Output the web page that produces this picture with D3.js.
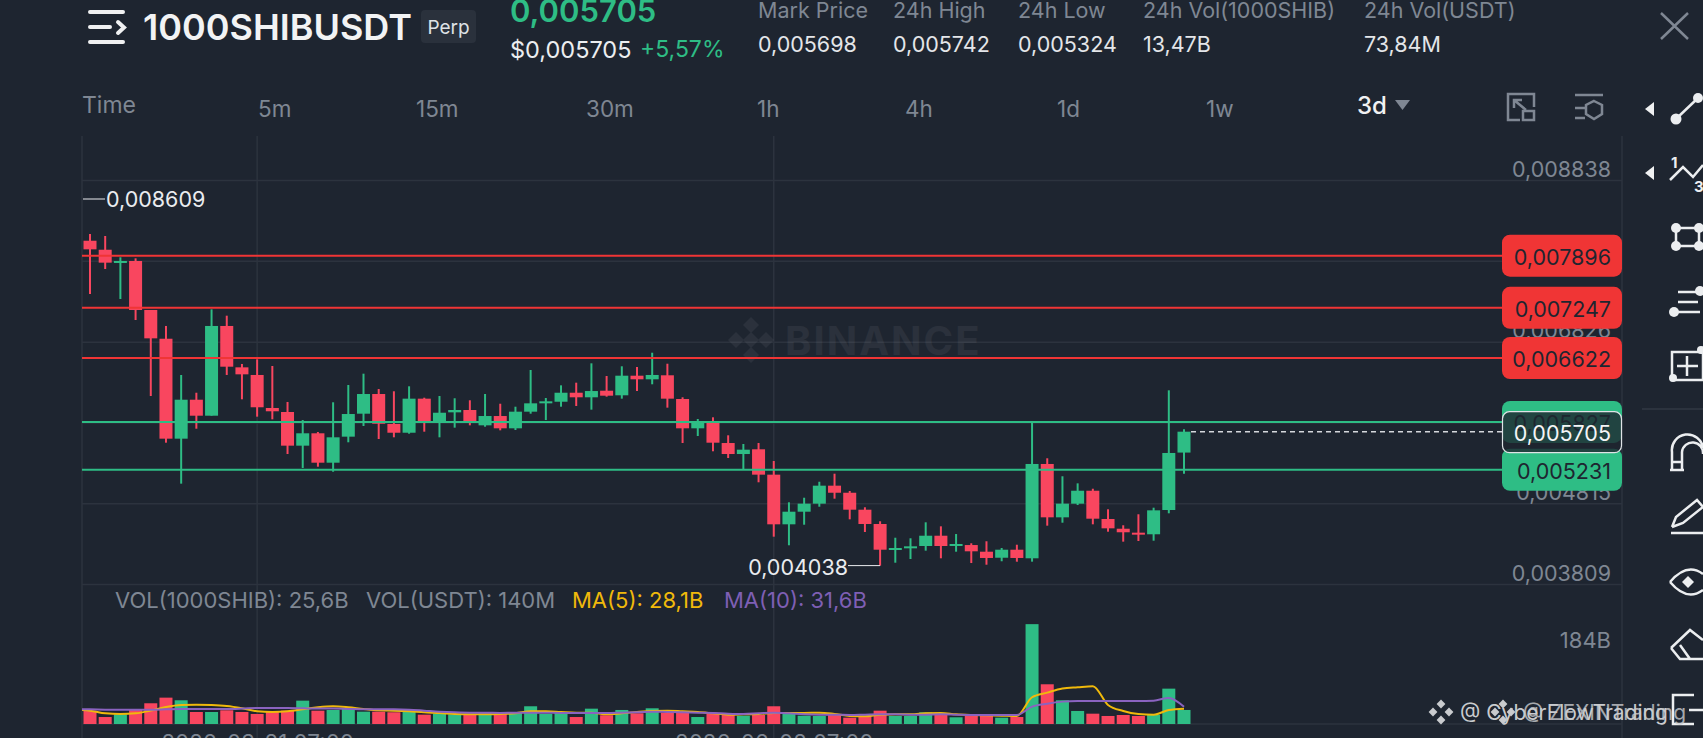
<!DOCTYPE html>
<html><head><meta charset="utf-8">
<script src="https://cdn.jsdelivr.net/npm/d3@7/dist/d3.min.js"></script>
<style>html,body{margin:0;padding:0;background:#1e2530;overflow:hidden}svg{display:block}text{font-family:Inter,"Noto Sans",sans-serif}</style>
</head><body><div id="c"></div>
<script>
// Prices are in millionths of USDT
const priceOpen=[8082,7970,7809,7830,7220,6862,5618,6103,5904,7021,6506,6411,6000,5950,5531,5685,5319,5643,5929,6174,5801,5692,6116,5826,5946,5975,5784,5900,5747,5954,6058,6078,6190,6133,6215,6158,6402,6357,6407,6112,5747,5838,5564,5427,5486,5170,4552,4709,4809,5033,4945,4734,4556,4245,4261,4282,4410,4291,4294,4211,4136,4236,4129,5303,4639,4809,4970,4618,4497,4448,4428,4730,5445];
const priceHigh=[8166,8141,7876,7863,7220,7021,6411,6190,7228,7149,6548,6606,6523,6075,5850,5701,6071,6286,6427,6236,6208,6270,6128,6149,6121,6096,6174,6053,6016,6473,6124,6282,6315,6556,6398,6519,6510,6688,6551,6133,5863,5884,5660,5552,5564,5340,4826,4883,5082,5182,4967,4764,4590,4385,4378,4577,4527,4431,4316,4341,4257,4298,5822,5374,5150,5062,4995,4739,4540,4677,4759,6220,5735];
const priceLow=[7419,7730,7357,7095,6149,5568,5058,5742,5904,6411,6108,5892,5859,5427,5253,5269,5207,5573,5776,5614,5635,5680,5705,5635,5755,5784,5767,5722,5726,5929,5850,6016,6025,5979,6141,6116,6211,6295,6004,5564,5651,5461,5377,5228,5075,4398,4291,4547,4771,4871,4614,4456,4038,4074,4120,4224,4129,4211,4070,4049,4092,4087,4087,4535,4572,4792,4552,4460,4336,4344,4348,4689,5182];
const priceClose=[7975,7809,7830,7220,6867,5618,6103,5904,7021,6514,6419,6009,5959,5531,5685,5319,5635,5925,6174,5804,5692,6116,5834,5941,5975,5829,5900,5747,5954,6058,6083,6190,6133,6211,6153,6402,6357,6411,6116,5747,5838,5568,5427,5481,5170,4552,4709,4809,5033,4945,4734,4556,4236,4257,4278,4410,4282,4307,4216,4133,4236,4133,5303,4639,4809,4970,4622,4502,4453,4423,4726,5440,5705];
// Volumes in billions
const volume=[24.4,12.8,17.8,25.7,38,48.3,43.5,22,22,25.1,22,18.4,22,24.4,42.8,24.4,25.7,28.8,22.6,22.6,21.5,25.7,17.1,18.4,17.8,18.4,22,18.4,20.7,32.5,18.4,21.5,12.8,28.1,16,25.7,19.6,28.8,20.7,20.7,12.8,18.4,16.5,15.2,16.5,32.5,19.6,15.2,14.7,16.5,11.6,14.7,24.4,14.7,14.7,21.5,16.5,12.3,15.2,15.2,11.6,12.8,183,72.8,43.5,23.9,18.9,14.7,16.5,14.7,17.1,64.8,25.7];
const ma5=[24.5,19.6,18.4,19.6,24.5,31.2,34.9,35.5,34.9,33,28.8,23.3,22,23.3,26.9,30.6,32.4,30.6,27.5,25.1,24.5,23.3,21.4,20.2,18.4,17.7,17.7,18.4,19.6,23.3,23.3,22,20.8,20.8,17.7,19.6,22,23.9,24.5,23.3,22,19.6,17.1,17.7,18.4,20.2,20.2,20.2,20.8,18.4,14.7,14.1,17.1,17.7,17.7,19.6,20.2,17.7,16.5,15.9,15.3,14.7,49,57.5,64.9,67.3,69.2,34.9,23.9,18.4,17.1,25.7,28.1];
const ma10=[26.9,26.3,26.3,26.3,26.3,26.9,27.5,27.5,27.5,27.5,28.2,29.4,29.4,29.4,28.8,28.2,28.2,27.5,26.9,26.9,26.9,26.3,24.5,22.6,21.4,20.8,20.8,20.2,20.8,20.8,20.8,20.2,20.2,20.2,20.2,20.8,21.4,22.6,22,21.4,20.8,20.2,19,18.4,19.6,20.8,19.6,17.7,17.1,17.1,16.5,17.1,17.7,17.7,17.1,17.1,17.7,17.1,16.5,16.5,16.5,16.5,31.8,37.3,41,42.2,42.2,42.2,42.2,42.2,42.8,47.7,31.6];
// moving averages of the candle just left of the visible range
const ma5Before=26, ma10Before=26.9;
const priceTicks=[8838,7832,6826,5820,4815,3809];
const redLevels=[7896,7247,6622];
const greenLevels=[5827,5231];
const lastPrice=5705;
const dateTicks=[[11,"2026-03-21 07:00"],[45,"2026-06-02 07:00"]];
const intervals=[["5m",258],["15m",416],["30m",586],["1h",757],["4h",905],["1d",1057],["1w",1206]];
const stats=[["Mark Price","0,005698",758],["24h High","0,005742",893],["24h Low","0,005324",1018],["24h Vol(1000SHIB)","13,47B",1143],["24h Vol(USDT)","73,84M",1364]];

const W=1703,H=738,BG="#1e2530",GRID="#2c333e",GRAY="#7f8793",
 UP="#2ebd85",DOWN="#f9465f",LRED="#f03535",LGREEN="#2ebd85",WHITE="#eaecef",DARK="#1e2530";
const L=82,R=1622;
const fmt=d=>(d/1e6).toFixed(6).replace(".",",");
const x=d3.scaleLinear().domain([0,72]).range([90,1184]);
const y=d3.scaleLinear().domain([3809,8838]).range([584,180]);
const yv=d3.scaleLinear().domain([0,184]).range([724,623.6]);
const svg=d3.select("#c").append("svg").attr("width",W).attr("height",H).style("background",BG);
svg.append("defs").append("clipPath").attr("id","plot").append("rect").attr("x",L).attr("y",136).attr("width",R-L).attr("height",H-136);
const T=(s,tx,ty,size,fill,opt={})=>svg.append("text").text(s).attr("x",tx).attr("y",ty).attr("font-size",size).attr("fill",fill)
  .attr("dominant-baseline","central").attr("text-anchor",opt.anchor||"start").attr("font-weight",opt.w||400).attr("letter-spacing",opt.ls||0);

// frame
svg.append("line").attr("x1",L).attr("x2",L).attr("y1",136).attr("y2",H).attr("stroke",GRID).attr("stroke-width",1.5);
svg.append("line").attr("x1",R).attr("x2",R).attr("y1",136).attr("y2",H).attr("stroke",GRID).attr("stroke-width",1.5);

// vertical grid and date axis
const xAxis=d3.axisBottom(x).tickValues(dateTicks.map(d=>d[0])).tickSize(0).tickPadding(0)
  .tickFormat(i=>dateTicks.find(d=>d[0]===i)[1]);
const gx=svg.append("g").attr("transform","translate(0,733)").call(xAxis);
gx.select(".domain").remove();
gx.selectAll("text").attr("y",0).attr("dy",0).attr("dominant-baseline","hanging").attr("font-size",22.4).attr("fill",GRAY).attr("font-family","Inter");
svg.selectAll(null).data(dateTicks).join("line").attr("x1",d=>x(d[0])).attr("x2",d=>x(d[0])).attr("y1",136).attr("y2",H).attr("stroke",GRID).attr("stroke-width",1.5);

// price grid + labels
const yAxis=d3.axisLeft(y).tickValues(priceTicks).tickSize(R-L).tickPadding(0).tickFormat(fmt);
const gy=svg.append("g").attr("transform",`translate(${R},0)`).call(yAxis);
gy.select(".domain").remove();
gy.selectAll("line").attr("stroke",GRID).attr("stroke-width",1.5);
gy.selectAll("text").attr("x",-11).attr("dy",0).attr("y",-12).attr("dominant-baseline","central").attr("text-anchor","end").attr("font-size",21.5).attr("fill",GRAY).attr("font-family","Inter");
svg.append("line").attr("x1",L).attr("x2",R).attr("y1",yv(0)).attr("y2",yv(0)).attr("stroke",GRID).attr("stroke-width",1.5);

// watermark
const wm=svg.append("g").attr("opacity",.055);
wm.append("g").attr("transform","translate(751,340)").selectAll("path").data([[0,-15],[0,15],[-15,0],[15,0],[0,0]]).join("path")
  .attr("d","M0,-8L8,0L0,8L-8,0Z").attr("transform",d=>`translate(${d[0]},${d[1]})`).attr("fill","#fff");
wm.append("text").text("BINANCE").attr("x",785).attr("y",340).attr("dominant-baseline","central").attr("font-size",40).attr("font-weight",700).attr("fill","#fff").attr("letter-spacing",2);

// volume bars
const up=i=>priceClose[i]>=priceOpen[i];
const idx=d3.range(volume.length);
svg.append("g").selectAll("rect").data(idx).join("rect")
  .attr("x",i=>x(i)-6.5).attr("width",13).attr("y",i=>yv(volume[i])).attr("height",i=>yv(0)-yv(volume[i]))
  .attr("fill",i=>up(i)?UP:DOWN);
const mk=(arr,before)=>d3.line().x((d,i)=>x(i-1)).y(d=>yv(d)).curve(d3.curveMonotoneX)([before,...arr]);
const mag=svg.append("g").attr("clip-path","url(#plot)").attr("fill","none").attr("stroke-width",2);
mag.append("path").attr("d",mk(ma5,ma5Before)).attr("stroke","#f0b90b");
mag.append("path").attr("d",mk(ma10,ma10Before)).attr("stroke","#8a63c0");

// candles
const cg=svg.append("g");
cg.selectAll("line").data(idx).join("line").attr("x1",i=>x(i)).attr("x2",i=>x(i))
  .attr("y1",i=>y(priceHigh[i])).attr("y2",i=>y(priceLow[i])).attr("stroke-width",2).attr("stroke",i=>up(i)?UP:DOWN);
cg.selectAll("rect").data(idx).join("rect").attr("x",i=>x(i)-6.5).attr("width",13)
  .attr("y",i=>y(Math.max(priceOpen[i],priceClose[i])))
  .attr("height",i=>Math.max(2,Math.abs(y(priceOpen[i])-y(priceClose[i]))))
  .attr("fill",i=>up(i)?UP:DOWN);

// horizontal levels
const LX=1502;
svg.selectAll(null).data(redLevels).join("line").attr("x1",L).attr("x2",LX).attr("y1",d=>y(d)).attr("y2",d=>y(d)).attr("stroke",LRED).attr("stroke-width",2);
svg.selectAll(null).data(greenLevels).join("line").attr("x1",L).attr("x2",LX).attr("y1",d=>y(d)).attr("y2",d=>y(d)).attr("stroke",LGREEN).attr("stroke-width",2);
svg.append("line").attr("x1",x(72)+7).attr("x2",LX).attr("y1",y(lastPrice)).attr("y2",y(lastPrice)).attr("stroke","#d5d8dc").attr("stroke-width",1.5).attr("stroke-dasharray","5 4");

// level tags
const tag=(v,fill)=>{svg.append("rect").attr("x",LX).attr("width",R-LX).attr("y",y(v)-21).attr("height",42).attr("rx",8).attr("fill",fill);
  T(fmt(v),1611,y(v)+1,21.5,DARK,{anchor:"end"});};
redLevels.forEach(v=>tag(v,LRED));
greenLevels.forEach(v=>tag(v,LGREEN));
svg.append("rect").attr("x",LX+.5).attr("width",R-LX-1).attr("y",y(lastPrice)-20).attr("height",41).attr("rx",7).attr("fill",BG).attr("fill-opacity",.8).attr("stroke","#dfe3e6").attr("stroke-width",1.2);
T(fmt(lastPrice),1611,y(lastPrice)+1,21.5,"#f4f5f6",{anchor:"end"});

// extremes
svg.append("line").attr("x1",83).attr("x2",105).attr("y1",199).attr("y2",199).attr("stroke",WHITE).attr("stroke-width",1);
T("0,008609",106,199,21.5,WHITE);
const lowX=x(priceLow.indexOf(4038));
svg.append("line").attr("x1",848).attr("x2",lowX).attr("y1",y(4038)).attr("y2",y(4038)).attr("stroke",WHITE).attr("stroke-width",1);
T("0,004038",848,y(4038)+1,21.5,WHITE,{anchor:"end"});

// volume legend
T("VOL(1000SHIB): 25,6B",115,600,22,GRAY);
T("VOL(USDT): 140M",366,600,22,GRAY);
T("MA(5): 28,1B",572,600,22,"#f0b90b");
T("MA(10): 31,6B",724,600,22,"#7e5fb4");
T("184B",1611,640,22,GRAY,{anchor:"end"});

// header
const ic=svg.append("g").attr("stroke","#f0f1f2").attr("stroke-width",4).attr("stroke-linecap","round").attr("fill","none");
ic.append("path").attr("d","M90,12H123M90,27H110M90,42H123M118,22L124,27.5L118,33");
T("1000SHIBUSDT",143,27,36,"#f2f3f4",{w:600});
svg.append("rect").attr("x",421).attr("y",10).attr("width",55).attr("height",33).attr("rx",4).attr("fill","#2a313c");
T("Perp",448.5,27,19,"#dfe2e6",{anchor:"middle"});
T("0,005705",510,10,31,UP,{w:600});
T("$0,005705",510,49,23.5,"#eceef0");
T("+5,57%",640,49,23,UP);
stats.forEach(s=>{T(s[0],s[2],10,21.5,GRAY);T(s[1],s[2],44,21.5,"#e4e6e9");});
svg.append("path").attr("d","M1661,13L1688,39M1688,13L1661,39").attr("stroke",GRAY).attr("stroke-width",2.5).attr("fill","none");

// interval bar
T("Time",82,105,23,GRAY);
intervals.forEach(d=>T(d[0],d[1],108,22.5,GRAY));
T("3d",1357,105,24,"#f0f1f2",{w:500});
svg.append("path").attr("d","M1395,100H1410L1402.5,110Z").attr("fill",GRAY);
const a=svg.append("g").attr("fill","none").attr("stroke",GRAY).attr("stroke-width",2.5);
a.append("path").attr("d","M1519,94H1534V107M1520,120H1508V94H1519M1514,100L1526,110M1514,108V100H1522");
a.append("rect").attr("x",1523).attr("y",111).attr("width",11).attr("height",9);
a.append("path").attr("d","M1575,95H1603M1575,108H1585M1575,118H1585M1594,101L1602,105V114L1594,119L1586,114V105Z");

// side toolbar
svg.append("line").attr("x1",1642).attr("x2",W).attr("y1",409).attr("y2",409).attr("stroke",GRID).attr("stroke-width",2);
svg.selectAll(null).data([109,173]).join("path").attr("d",d=>`M1654,${d-7}V${d+7}L1645,${d}Z`).attr("fill","#f0f1f2");
const b=svg.append("g").attr("fill","none").attr("stroke","#eceef0").attr("stroke-width",2.5);
const dot=(cx,cy,r=5)=>svg.append("circle").attr("cx",cx).attr("cy",cy).attr("r",r).attr("fill","#eceef0");
b.append("path").attr("d","M1677,118L1698,98");dot(1676,119,5.5);dot(1698,98,5);
b.append("path").attr("d","M1670,180L1683,167L1693,177L1703,165");
T("1",1671,162,15,"#eceef0",{w:700});T("3",1694,186,15,"#eceef0",{w:700});
b.append("path").attr("d","M1677,228H1698M1677,246H1698M1676,228V246M1699,228V246");[[1676,228],[1699,228],[1676,246],[1699,246]].forEach(p=>dot(p[0],p[1],5));
b.append("path").attr("d","M1678,292H1700M1678,302H1698M1678,312H1700");dot(1700,291,5);dot(1674,312,5);
b.append("path").attr("d","M1672,352H1703V380H1672ZM1687,356V376M1677,366H1698");dot(1673,378,4);dot(1701,350,4);
b.append("path").attr("d","M1672,469V452A14,14,0,0,1,1703,448M1672,462H1682M1682,469V452A5,5,0,0,1,1703,454M1670,470H1684");
b.append("path").attr("d","M1672,527L1676,517L1697,500L1703,507M1672,527L1683,523L1703,507M1671,533H1703");
b.append("path").attr("d","M1670,582Q1687,562,1703,574M1670,582Q1687,602,1703,590");
svg.append("path").attr("d","M1688,576L1694,582L1688,588L1682,582Z").attr("fill","#eceef0");
b.append("path").attr("d","M1671,648L1690,630L1703,640M1671,648L1680,659H1703M1680,645L1690,659");
b.append("path").attr("d","M1694,695H1673V724H1694M1689,710H1703");

// overlaid share watermarks
const diamond=(cx,cy,s)=>svg.append("g").attr("fill","#c9cbce").selectAll("path").data([[0,-s],[0,s],[-s,0],[s,0]]).join("path")
  .attr("d",`M0,${-s*.55}L${s*.55},0L0,${s*.55}L${-s*.55},0Z`).attr("transform",d=>`translate(${cx+d[0]},${cy+d[1]})`);
diamond(1441,712,8);diamond(1503,712,8);
T("@ CyberFlowTrading",1460,712,21,"#c9cbce");
T("@ ZEXINTrading",1523,712,21,"#c9cbce").attr("opacity",.8);
</script></body></html>
